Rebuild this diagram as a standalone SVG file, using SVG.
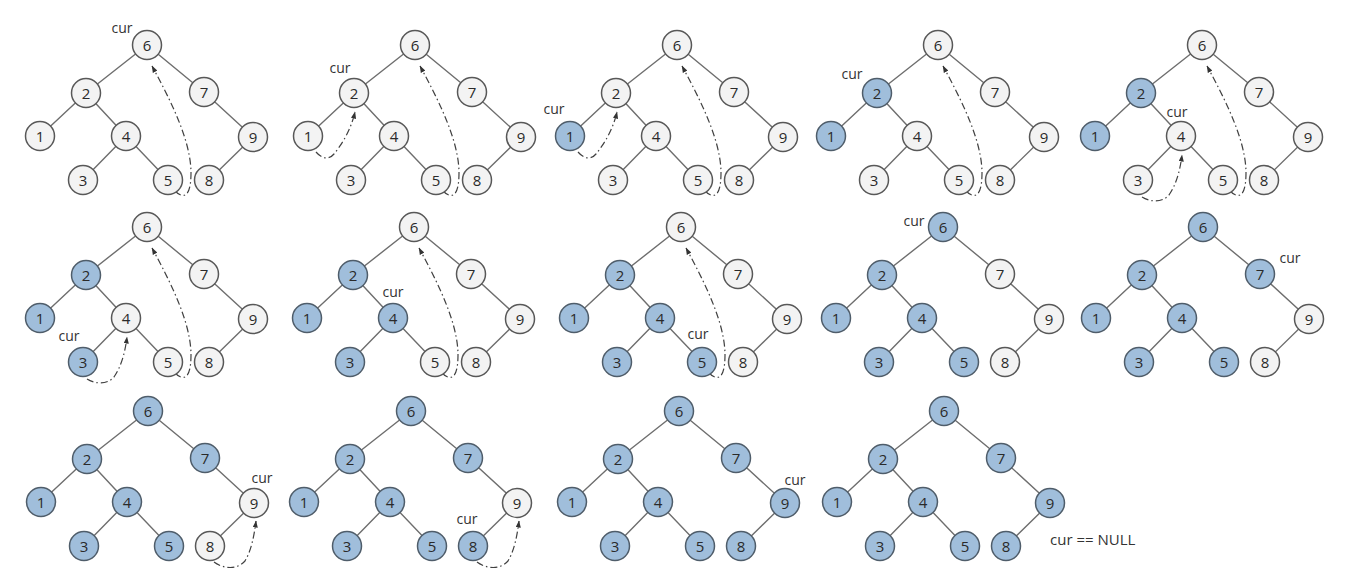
<svg xmlns="http://www.w3.org/2000/svg" width="1358" height="581" viewBox="0 0 1358 581">
<style>
.bg{fill:#ffffff}
.edge{fill:none;stroke:#6e6e6e;stroke-width:1.4}
.thread{fill:none;stroke:#404040;stroke-width:1.2;stroke-dasharray:7 3 1.5 3;marker-end:url(#ah)}
.node circle{fill:#f3f3f3;stroke:#585858;stroke-width:1.5}
.node.done circle{fill:#a0bedb;stroke:#4f5d6a}
.node text{font-family:"Open Sans","DejaVu Sans",sans-serif;font-size:15px;fill:#2a2a2a;text-anchor:middle}
.cur{font-family:"Open Sans","DejaVu Sans",sans-serif;font-size:14px;fill:#333;text-anchor:middle}
.curnull{font-family:"Open Sans","DejaVu Sans",sans-serif;font-size:15px;fill:#333}
</style>
<defs>
<marker id="ah" viewBox="0 0 8 6" refX="7.5" refY="3" markerWidth="7" markerHeight="5.5" orient="auto" markerUnits="userSpaceOnUse"><path d="M0 0L8 3L0 6z" fill="#333"/></marker>
</defs>
<rect class="bg" x="0" y="0" width="1358" height="581"/>

<!-- Tree 1 -->
<g id="tree1" transform="translate(147 45)">
<g id="tree1-connectors"><path class="edge" d="M0 0L-61 48M0 0L57 47M-61 48L-107 91M-61 48L-21 91M-21 91L-64 135M-21 91L21 135M57 47L106 92M106 92L62 135"/>
<path class="thread" d="M28 146C36 154 44 153 44 128C44 96 24 56 5 21"/></g>
<g id="t1-n6" class="node"><circle cx="0" cy="0" r="14.5"/><text x="0" y="5.5">6</text></g>
<g id="t1-n2" class="node"><circle cx="-61" cy="48" r="14.5"/><text x="-61" y="53.5">2</text></g>
<g id="t1-n7" class="node"><circle cx="57" cy="47" r="14.5"/><text x="57" y="52.5">7</text></g>
<g id="t1-n1" class="node"><circle cx="-107" cy="91" r="14.5"/><text x="-107" y="96.5">1</text></g>
<g id="t1-n4" class="node"><circle cx="-21" cy="91" r="14.5"/><text x="-21" y="96.5">4</text></g>
<g id="t1-n9" class="node"><circle cx="106" cy="92" r="14.5"/><text x="106" y="97.5">9</text></g>
<g id="t1-n3" class="node"><circle cx="-64" cy="135" r="14.5"/><text x="-64" y="140.5">3</text></g>
<g id="t1-n5" class="node"><circle cx="21" cy="135" r="14.5"/><text x="21" y="140.5">5</text></g>
<g id="t1-n8" class="node"><circle cx="62" cy="135" r="14.5"/><text x="62" y="140.5">8</text></g>
<text class="cur" x="-25" y="-12">cur</text>
</g>

<!-- Tree 2 -->
<g id="tree2" transform="translate(415 45)">
<g id="tree2-connectors"><path class="edge" d="M0 0L-61 48M0 0L57 47M-61 48L-107 91M-61 48L-21 91M-21 91L-64 135M-21 91L21 135M57 47L106 92M106 92L62 135"/>
<path class="thread" d="M28 146C36 154 44 153 44 128C44 96 24 56 5 21"/>
<path class="thread" d="M-99 107C-93 114 -86 115 -81 109C-72 98 -64 84 -60 67"/></g>
<g id="t2-n6" class="node"><circle cx="0" cy="0" r="14.5"/><text x="0" y="5.5">6</text></g>
<g id="t2-n2" class="node"><circle cx="-61" cy="48" r="14.5"/><text x="-61" y="53.5">2</text></g>
<g id="t2-n7" class="node"><circle cx="57" cy="47" r="14.5"/><text x="57" y="52.5">7</text></g>
<g id="t2-n1" class="node"><circle cx="-107" cy="91" r="14.5"/><text x="-107" y="96.5">1</text></g>
<g id="t2-n4" class="node"><circle cx="-21" cy="91" r="14.5"/><text x="-21" y="96.5">4</text></g>
<g id="t2-n9" class="node"><circle cx="106" cy="92" r="14.5"/><text x="106" y="97.5">9</text></g>
<g id="t2-n3" class="node"><circle cx="-64" cy="135" r="14.5"/><text x="-64" y="140.5">3</text></g>
<g id="t2-n5" class="node"><circle cx="21" cy="135" r="14.5"/><text x="21" y="140.5">5</text></g>
<g id="t2-n8" class="node"><circle cx="62" cy="135" r="14.5"/><text x="62" y="140.5">8</text></g>
<text class="cur" x="-75" y="28">cur</text>
</g>

<!-- Tree 3 -->
<g id="tree3" transform="translate(677 45)">
<g id="tree3-connectors"><path class="edge" d="M0 0L-61 48M0 0L57 47M-61 48L-107 91M-61 48L-21 91M-21 91L-64 135M-21 91L21 135M57 47L106 92M106 92L62 135"/>
<path class="thread" d="M28 146C36 154 44 153 44 128C44 96 24 56 5 21"/>
<path class="thread" d="M-99 107C-93 114 -86 115 -81 109C-72 98 -64 84 -60 67"/></g>
<g id="t3-n6" class="node"><circle cx="0" cy="0" r="14.5"/><text x="0" y="5.5">6</text></g>
<g id="t3-n2" class="node"><circle cx="-61" cy="48" r="14.5"/><text x="-61" y="53.5">2</text></g>
<g id="t3-n7" class="node"><circle cx="57" cy="47" r="14.5"/><text x="57" y="52.5">7</text></g>
<g id="t3-n1" class="node done"><circle cx="-107" cy="91" r="14.5"/><text x="-107" y="96.5">1</text></g>
<g id="t3-n4" class="node"><circle cx="-21" cy="91" r="14.5"/><text x="-21" y="96.5">4</text></g>
<g id="t3-n9" class="node"><circle cx="106" cy="92" r="14.5"/><text x="106" y="97.5">9</text></g>
<g id="t3-n3" class="node"><circle cx="-64" cy="135" r="14.5"/><text x="-64" y="140.5">3</text></g>
<g id="t3-n5" class="node"><circle cx="21" cy="135" r="14.5"/><text x="21" y="140.5">5</text></g>
<g id="t3-n8" class="node"><circle cx="62" cy="135" r="14.5"/><text x="62" y="140.5">8</text></g>
<text class="cur" x="-123" y="69">cur</text>
</g>

<!-- Tree 4 -->
<g id="tree4" transform="translate(938 45)">
<g id="tree4-connectors"><path class="edge" d="M0 0L-61 48M0 0L57 47M-61 48L-107 91M-61 48L-21 91M-21 91L-64 135M-21 91L21 135M57 47L106 92M106 92L62 135"/>
<path class="thread" d="M28 146C36 154 44 153 44 128C44 96 24 56 5 21"/></g>
<g id="t4-n6" class="node"><circle cx="0" cy="0" r="14.5"/><text x="0" y="5.5">6</text></g>
<g id="t4-n2" class="node done"><circle cx="-61" cy="48" r="14.5"/><text x="-61" y="53.5">2</text></g>
<g id="t4-n7" class="node"><circle cx="57" cy="47" r="14.5"/><text x="57" y="52.5">7</text></g>
<g id="t4-n1" class="node done"><circle cx="-107" cy="91" r="14.5"/><text x="-107" y="96.5">1</text></g>
<g id="t4-n4" class="node"><circle cx="-21" cy="91" r="14.5"/><text x="-21" y="96.5">4</text></g>
<g id="t4-n9" class="node"><circle cx="106" cy="92" r="14.5"/><text x="106" y="97.5">9</text></g>
<g id="t4-n3" class="node"><circle cx="-64" cy="135" r="14.5"/><text x="-64" y="140.5">3</text></g>
<g id="t4-n5" class="node"><circle cx="21" cy="135" r="14.5"/><text x="21" y="140.5">5</text></g>
<g id="t4-n8" class="node"><circle cx="62" cy="135" r="14.5"/><text x="62" y="140.5">8</text></g>
<text class="cur" x="-86" y="34">cur</text>
</g>

<!-- Tree 5 -->
<g id="tree5" transform="translate(1202 45)">
<g id="tree5-connectors"><path class="edge" d="M0 0L-61 48M0 0L57 47M-61 48L-107 91M-61 48L-21 91M-21 91L-64 135M-21 91L21 135M57 47L106 92M106 92L62 135"/>
<path class="thread" d="M28 146C36 154 44 153 44 128C44 96 24 56 5 21"/>
<path class="thread" d="M-60 152C-52 157 -40 158 -33 150C-26 140 -22 126 -20 110"/></g>
<g id="t5-n6" class="node"><circle cx="0" cy="0" r="14.5"/><text x="0" y="5.5">6</text></g>
<g id="t5-n2" class="node done"><circle cx="-61" cy="48" r="14.5"/><text x="-61" y="53.5">2</text></g>
<g id="t5-n7" class="node"><circle cx="57" cy="47" r="14.5"/><text x="57" y="52.5">7</text></g>
<g id="t5-n1" class="node done"><circle cx="-107" cy="91" r="14.5"/><text x="-107" y="96.5">1</text></g>
<g id="t5-n4" class="node"><circle cx="-21" cy="91" r="14.5"/><text x="-21" y="96.5">4</text></g>
<g id="t5-n9" class="node"><circle cx="106" cy="92" r="14.5"/><text x="106" y="97.5">9</text></g>
<g id="t5-n3" class="node"><circle cx="-64" cy="135" r="14.5"/><text x="-64" y="140.5">3</text></g>
<g id="t5-n5" class="node"><circle cx="21" cy="135" r="14.5"/><text x="21" y="140.5">5</text></g>
<g id="t5-n8" class="node"><circle cx="62" cy="135" r="14.5"/><text x="62" y="140.5">8</text></g>
<text class="cur" x="-25" y="72">cur</text>
</g>

<!-- Tree 6 -->
<g id="tree6" transform="translate(147 227)">
<g id="tree6-connectors"><path class="edge" d="M0 0L-61 48M0 0L57 47M-61 48L-107 91M-61 48L-21 91M-21 91L-64 135M-21 91L21 135M57 47L106 92M106 92L62 135"/>
<path class="thread" d="M28 146C36 154 44 153 44 128C44 96 24 56 5 21"/>
<path class="thread" d="M-60 152C-52 157 -40 158 -33 150C-26 140 -22 126 -20 110"/></g>
<g id="t6-n6" class="node"><circle cx="0" cy="0" r="14.5"/><text x="0" y="5.5">6</text></g>
<g id="t6-n2" class="node done"><circle cx="-61" cy="48" r="14.5"/><text x="-61" y="53.5">2</text></g>
<g id="t6-n7" class="node"><circle cx="57" cy="47" r="14.5"/><text x="57" y="52.5">7</text></g>
<g id="t6-n1" class="node done"><circle cx="-107" cy="91" r="14.5"/><text x="-107" y="96.5">1</text></g>
<g id="t6-n4" class="node"><circle cx="-21" cy="91" r="14.5"/><text x="-21" y="96.5">4</text></g>
<g id="t6-n9" class="node"><circle cx="106" cy="92" r="14.5"/><text x="106" y="97.5">9</text></g>
<g id="t6-n3" class="node done"><circle cx="-64" cy="135" r="14.5"/><text x="-64" y="140.5">3</text></g>
<g id="t6-n5" class="node"><circle cx="21" cy="135" r="14.5"/><text x="21" y="140.5">5</text></g>
<g id="t6-n8" class="node"><circle cx="62" cy="135" r="14.5"/><text x="62" y="140.5">8</text></g>
<text class="cur" x="-78" y="114">cur</text>
</g>

<!-- Tree 7 -->
<g id="tree7" transform="translate(414 227)">
<g id="tree7-connectors"><path class="edge" d="M0 0L-61 48M0 0L57 47M-61 48L-107 91M-61 48L-21 91M-21 91L-64 135M-21 91L21 135M57 47L106 92M106 92L62 135"/>
<path class="thread" d="M28 146C36 154 44 153 44 128C44 96 24 56 5 21"/></g>
<g id="t7-n6" class="node"><circle cx="0" cy="0" r="14.5"/><text x="0" y="5.5">6</text></g>
<g id="t7-n2" class="node done"><circle cx="-61" cy="48" r="14.5"/><text x="-61" y="53.5">2</text></g>
<g id="t7-n7" class="node"><circle cx="57" cy="47" r="14.5"/><text x="57" y="52.5">7</text></g>
<g id="t7-n1" class="node done"><circle cx="-107" cy="91" r="14.5"/><text x="-107" y="96.5">1</text></g>
<g id="t7-n4" class="node done"><circle cx="-21" cy="91" r="14.5"/><text x="-21" y="96.5">4</text></g>
<g id="t7-n9" class="node"><circle cx="106" cy="92" r="14.5"/><text x="106" y="97.5">9</text></g>
<g id="t7-n3" class="node done"><circle cx="-64" cy="135" r="14.5"/><text x="-64" y="140.5">3</text></g>
<g id="t7-n5" class="node"><circle cx="21" cy="135" r="14.5"/><text x="21" y="140.5">5</text></g>
<g id="t7-n8" class="node"><circle cx="62" cy="135" r="14.5"/><text x="62" y="140.5">8</text></g>
<text class="cur" x="-21" y="70">cur</text>
</g>

<!-- Tree 8 -->
<g id="tree8" transform="translate(681 227)">
<g id="tree8-connectors"><path class="edge" d="M0 0L-61 48M0 0L57 47M-61 48L-107 91M-61 48L-21 91M-21 91L-64 135M-21 91L21 135M57 47L106 92M106 92L62 135"/>
<path class="thread" d="M28 146C36 154 44 153 44 128C44 96 24 56 5 21"/></g>
<g id="t8-n6" class="node"><circle cx="0" cy="0" r="14.5"/><text x="0" y="5.5">6</text></g>
<g id="t8-n2" class="node done"><circle cx="-61" cy="48" r="14.5"/><text x="-61" y="53.5">2</text></g>
<g id="t8-n7" class="node"><circle cx="57" cy="47" r="14.5"/><text x="57" y="52.5">7</text></g>
<g id="t8-n1" class="node done"><circle cx="-107" cy="91" r="14.5"/><text x="-107" y="96.5">1</text></g>
<g id="t8-n4" class="node done"><circle cx="-21" cy="91" r="14.5"/><text x="-21" y="96.5">4</text></g>
<g id="t8-n9" class="node"><circle cx="106" cy="92" r="14.5"/><text x="106" y="97.5">9</text></g>
<g id="t8-n3" class="node done"><circle cx="-64" cy="135" r="14.5"/><text x="-64" y="140.5">3</text></g>
<g id="t8-n5" class="node done"><circle cx="21" cy="135" r="14.5"/><text x="21" y="140.5">5</text></g>
<g id="t8-n8" class="node"><circle cx="62" cy="135" r="14.5"/><text x="62" y="140.5">8</text></g>
<text class="cur" x="17" y="112">cur</text>
</g>

<!-- Tree 9 -->
<g id="tree9" transform="translate(943 227)">
<g id="tree9-connectors"><path class="edge" d="M0 0L-61 48M0 0L57 47M-61 48L-107 91M-61 48L-21 91M-21 91L-64 135M-21 91L21 135M57 47L106 92M106 92L62 135"/></g>
<g id="t9-n6" class="node done"><circle cx="0" cy="0" r="14.5"/><text x="0" y="5.5">6</text></g>
<g id="t9-n2" class="node done"><circle cx="-61" cy="48" r="14.5"/><text x="-61" y="53.5">2</text></g>
<g id="t9-n7" class="node"><circle cx="57" cy="47" r="14.5"/><text x="57" y="52.5">7</text></g>
<g id="t9-n1" class="node done"><circle cx="-107" cy="91" r="14.5"/><text x="-107" y="96.5">1</text></g>
<g id="t9-n4" class="node done"><circle cx="-21" cy="91" r="14.5"/><text x="-21" y="96.5">4</text></g>
<g id="t9-n9" class="node"><circle cx="106" cy="92" r="14.5"/><text x="106" y="97.5">9</text></g>
<g id="t9-n3" class="node done"><circle cx="-64" cy="135" r="14.5"/><text x="-64" y="140.5">3</text></g>
<g id="t9-n5" class="node done"><circle cx="21" cy="135" r="14.5"/><text x="21" y="140.5">5</text></g>
<g id="t9-n8" class="node"><circle cx="62" cy="135" r="14.5"/><text x="62" y="140.5">8</text></g>
<text class="cur" x="-29" y="-1">cur</text>
</g>

<!-- Tree 10 -->
<g id="tree10" transform="translate(1203 227)">
<g id="tree10-connectors"><path class="edge" d="M0 0L-61 48M0 0L57 47M-61 48L-107 91M-61 48L-21 91M-21 91L-64 135M-21 91L21 135M57 47L106 92M106 92L62 135"/></g>
<g id="t10-n6" class="node done"><circle cx="0" cy="0" r="14.5"/><text x="0" y="5.5">6</text></g>
<g id="t10-n2" class="node done"><circle cx="-61" cy="48" r="14.5"/><text x="-61" y="53.5">2</text></g>
<g id="t10-n7" class="node done"><circle cx="57" cy="47" r="14.5"/><text x="57" y="52.5">7</text></g>
<g id="t10-n1" class="node done"><circle cx="-107" cy="91" r="14.5"/><text x="-107" y="96.5">1</text></g>
<g id="t10-n4" class="node done"><circle cx="-21" cy="91" r="14.5"/><text x="-21" y="96.5">4</text></g>
<g id="t10-n9" class="node"><circle cx="106" cy="92" r="14.5"/><text x="106" y="97.5">9</text></g>
<g id="t10-n3" class="node done"><circle cx="-64" cy="135" r="14.5"/><text x="-64" y="140.5">3</text></g>
<g id="t10-n5" class="node done"><circle cx="21" cy="135" r="14.5"/><text x="21" y="140.5">5</text></g>
<g id="t10-n8" class="node"><circle cx="62" cy="135" r="14.5"/><text x="62" y="140.5">8</text></g>
<text class="cur" x="87" y="36">cur</text>
</g>

<!-- Tree 11 -->
<g id="tree11" transform="translate(148 411)">
<g id="tree11-connectors"><path class="edge" d="M0 0L-61 48M0 0L57 47M-61 48L-107 91M-61 48L-21 91M-21 91L-64 135M-21 91L21 135M57 47L106 92M106 92L62 135"/>
<path class="thread" d="M66 151C74 157 88 160 97 150C103 140 106 126 108 110"/></g>
<g id="t11-n6" class="node done"><circle cx="0" cy="0" r="14.5"/><text x="0" y="5.5">6</text></g>
<g id="t11-n2" class="node done"><circle cx="-61" cy="48" r="14.5"/><text x="-61" y="53.5">2</text></g>
<g id="t11-n7" class="node done"><circle cx="57" cy="47" r="14.5"/><text x="57" y="52.5">7</text></g>
<g id="t11-n1" class="node done"><circle cx="-107" cy="91" r="14.5"/><text x="-107" y="96.5">1</text></g>
<g id="t11-n4" class="node done"><circle cx="-21" cy="91" r="14.5"/><text x="-21" y="96.5">4</text></g>
<g id="t11-n9" class="node"><circle cx="106" cy="92" r="14.5"/><text x="106" y="97.5">9</text></g>
<g id="t11-n3" class="node done"><circle cx="-64" cy="135" r="14.5"/><text x="-64" y="140.5">3</text></g>
<g id="t11-n5" class="node done"><circle cx="21" cy="135" r="14.5"/><text x="21" y="140.5">5</text></g>
<g id="t11-n8" class="node"><circle cx="62" cy="135" r="14.5"/><text x="62" y="140.5">8</text></g>
<text class="cur" x="114" y="72">cur</text>
</g>

<!-- Tree 12 -->
<g id="tree12" transform="translate(411 411)">
<g id="tree12-connectors"><path class="edge" d="M0 0L-61 48M0 0L57 47M-61 48L-107 91M-61 48L-21 91M-21 91L-64 135M-21 91L21 135M57 47L106 92M106 92L62 135"/>
<path class="thread" d="M66 151C74 157 88 160 97 150C103 140 106 126 108 110"/></g>
<g id="t12-n6" class="node done"><circle cx="0" cy="0" r="14.5"/><text x="0" y="5.5">6</text></g>
<g id="t12-n2" class="node done"><circle cx="-61" cy="48" r="14.5"/><text x="-61" y="53.5">2</text></g>
<g id="t12-n7" class="node done"><circle cx="57" cy="47" r="14.5"/><text x="57" y="52.5">7</text></g>
<g id="t12-n1" class="node done"><circle cx="-107" cy="91" r="14.5"/><text x="-107" y="96.5">1</text></g>
<g id="t12-n4" class="node done"><circle cx="-21" cy="91" r="14.5"/><text x="-21" y="96.5">4</text></g>
<g id="t12-n9" class="node"><circle cx="106" cy="92" r="14.5"/><text x="106" y="97.5">9</text></g>
<g id="t12-n3" class="node done"><circle cx="-64" cy="135" r="14.5"/><text x="-64" y="140.5">3</text></g>
<g id="t12-n5" class="node done"><circle cx="21" cy="135" r="14.5"/><text x="21" y="140.5">5</text></g>
<g id="t12-n8" class="node done"><circle cx="62" cy="135" r="14.5"/><text x="62" y="140.5">8</text></g>
<text class="cur" x="56" y="113">cur</text>
</g>

<!-- Tree 13 -->
<g id="tree13" transform="translate(679 411)">
<g id="tree13-connectors"><path class="edge" d="M0 0L-61 48M0 0L57 47M-61 48L-107 91M-61 48L-21 91M-21 91L-64 135M-21 91L21 135M57 47L106 92M106 92L62 135"/></g>
<g id="t13-n6" class="node done"><circle cx="0" cy="0" r="14.5"/><text x="0" y="5.5">6</text></g>
<g id="t13-n2" class="node done"><circle cx="-61" cy="48" r="14.5"/><text x="-61" y="53.5">2</text></g>
<g id="t13-n7" class="node done"><circle cx="57" cy="47" r="14.5"/><text x="57" y="52.5">7</text></g>
<g id="t13-n1" class="node done"><circle cx="-107" cy="91" r="14.5"/><text x="-107" y="96.5">1</text></g>
<g id="t13-n4" class="node done"><circle cx="-21" cy="91" r="14.5"/><text x="-21" y="96.5">4</text></g>
<g id="t13-n9" class="node done"><circle cx="106" cy="92" r="14.5"/><text x="106" y="97.5">9</text></g>
<g id="t13-n3" class="node done"><circle cx="-64" cy="135" r="14.5"/><text x="-64" y="140.5">3</text></g>
<g id="t13-n5" class="node done"><circle cx="21" cy="135" r="14.5"/><text x="21" y="140.5">5</text></g>
<g id="t13-n8" class="node done"><circle cx="62" cy="135" r="14.5"/><text x="62" y="140.5">8</text></g>
<text class="cur" x="116" y="74">cur</text>
</g>

<!-- Tree 14 -->
<g id="tree14" transform="translate(944 411)">
<g id="tree14-connectors"><path class="edge" d="M0 0L-61 48M0 0L57 47M-61 48L-107 91M-61 48L-21 91M-21 91L-64 135M-21 91L21 135M57 47L106 92M106 92L62 135"/></g>
<g id="t14-n6" class="node done"><circle cx="0" cy="0" r="14.5"/><text x="0" y="5.5">6</text></g>
<g id="t14-n2" class="node done"><circle cx="-61" cy="48" r="14.5"/><text x="-61" y="53.5">2</text></g>
<g id="t14-n7" class="node done"><circle cx="57" cy="47" r="14.5"/><text x="57" y="52.5">7</text></g>
<g id="t14-n1" class="node done"><circle cx="-107" cy="91" r="14.5"/><text x="-107" y="96.5">1</text></g>
<g id="t14-n4" class="node done"><circle cx="-21" cy="91" r="14.5"/><text x="-21" y="96.5">4</text></g>
<g id="t14-n9" class="node done"><circle cx="106" cy="92" r="14.5"/><text x="106" y="97.5">9</text></g>
<g id="t14-n3" class="node done"><circle cx="-64" cy="135" r="14.5"/><text x="-64" y="140.5">3</text></g>
<g id="t14-n5" class="node done"><circle cx="21" cy="135" r="14.5"/><text x="21" y="140.5">5</text></g>
<g id="t14-n8" class="node done"><circle cx="62" cy="135" r="14.5"/><text x="62" y="140.5">8</text></g>
<text class="curnull" x="106" y="134">cur == NULL</text>
</g>
</svg>
